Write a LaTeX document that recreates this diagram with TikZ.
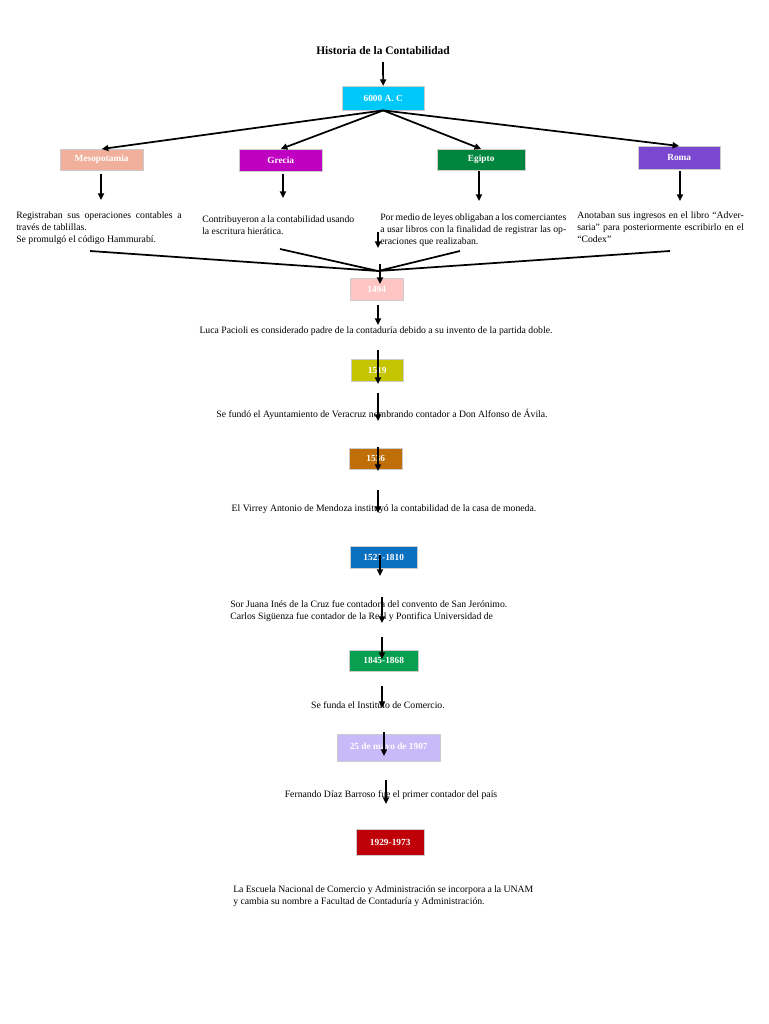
\documentclass[tikz,border=0pt]{standalone}
\usepackage{fontspec}
\setmainfont{Liberation Serif}
\usetikzlibrary{arrows.meta}
\begin{document}
\begin{tikzpicture}[x=0.75pt,y=-0.75pt,
  box/.style={draw=white!80!black,line width=0.3pt,anchor=north west,inner sep=0pt,text=white,font=\bfseries\fontsize{7}{8}\selectfont},
  txt/.style={font=\fontsize{7.3}{9.2}\selectfont,inner sep=0pt,anchor=north west,align=justify},
  ctxt/.style={font=\fontsize{7.3}{9.2}\selectfont,inner sep=0pt},
  ar/.style={-{Triangle[length=5pt,width=4.5pt]},line width=1.3pt},
  ln/.style={line width=1.3pt}]
\useasboundingbox (0,0) rectangle (768,1024);
\definecolor{c0}{HTML}{00C8F8}
\definecolor{c1}{HTML}{F0B09C}
\definecolor{c2}{HTML}{C000C0}
\definecolor{c3}{HTML}{00853F}
\definecolor{c4}{HTML}{7A48D0}
\definecolor{c5}{HTML}{FFC4C4}
\definecolor{c6}{HTML}{C4C400}
\definecolor{c7}{HTML}{C06E08}
\definecolor{c8}{HTML}{0A70C0}
\definecolor{c9}{HTML}{08A050}
\definecolor{c10}{HTML}{C8BAF8}
\definecolor{c11}{HTML}{C00008}
\node[font=\bfseries\fontsize{8.6}{10}\selectfont] (title) at (383,51) {Historia de la Contabilidad};
\node[box,fill=c0,minimum width={82*0.75pt},minimum height={24*0.75pt}] (b0) at (342,86) {6000 A. C};
\node[box,fill=c1,minimum width={83*0.75pt},minimum height={21*0.75pt}] (b1) at (60,149) {Mesopotamia};
\node[box,fill=c2,minimum width={83*0.75pt},minimum height={22*0.75pt}] (b2) at (239,149) {Grecia};
\node[box,fill=c3,minimum width={88*0.75pt},minimum height={21*0.75pt}] (b3) at (437,149) {Egipto};
\node[box,fill=c4,minimum width={82*0.75pt},minimum height={23*0.75pt}] (b4) at (638,146) {Roma};
\node[box,fill=c5,minimum width={53*0.75pt},minimum height={22*0.75pt}] (b5) at (350,278) {1494};
\node[box,fill=c6,minimum width={52*0.75pt},minimum height={22*0.75pt}] (b6) at (351,359) {1519};
\node[box,fill=c7,minimum width={53*0.75pt},minimum height={21*0.75pt}] (b7) at (349,448) {1536};
\node[box,fill=c8,minimum width={67*0.75pt},minimum height={22*0.75pt}] (b8) at (350,546) {1521-1810};
\node[box,fill=c9,minimum width={69*0.75pt},minimum height={21*0.75pt}] (b9) at (349,650) {1845-1868};
\node[box,fill=c10,minimum width={103*0.75pt},minimum height={27*0.75pt}] (b10) at (337,734) {25 de mayo de 1907};
\node[box,fill=c11,minimum width={68*0.75pt},minimum height={26*0.75pt}] (b11) at (356,829) {1929-1973};

\node[txt,text width=124pt] (t1) at (16,211) {Registraban sus operaciones contables a través de tablillas.\\Se promulgó el código Hammurabí.};
\node[txt,text width=114pt] (t2) at (202,215) {Contribuyeron a la contabilidad usando la escritura hierática.};
\node[txt,text width=139.5pt] (t3) at (380,213) {Por medio de leyes obligaban a los comerciantes a usar libros con la finalidad de registrar las operaciones que realizaban.};
\node[txt,text width=125pt] (t4) at (577,211) {Anotaban sus ingresos en el libro “Adversaria” para posteriormente escribirlo en el “Codex”};
\node[ctxt] (t5) at (376,331) {Luca Pacioli es considerado padre de la contaduría debido a su invento de la partida doble.};
\node[ctxt] (t6) at (382,414) {Se fundó el Ayuntamiento de Veracruz nombrando contador a Don Alfonso de Ávila.};
\node[ctxt] (t7) at (384,509) {El Virrey Antonio de Mendoza instituyó la contabilidad de la casa de moneda.};
\node[txt,text width=226pt] (t8) at (230,600) {Sor Juana Inés de la Cruz fue contadora del convento de San Jerónimo.\\Carlos Sigüenza fue contador de la Real y Pontifica Universidad de};
\node[ctxt] (t9) at (378,705) {Se funda el Instituto de Comercio.};
\node[ctxt] (t10) at (391,795) {Fernando Díaz Barroso fue el primer contador del país};
\node[txt,text width=225pt] (t11) at (233,885) {La Escuela Nacional de Comercio y Administración se incorpora a la UNAM y cambia su nombre a Facultad de Contaduría y Administración.};

\coordinate (m) at (378,271);
\coordinate (s1) at (90,251);\coordinate (s2) at (280,249);\coordinate (s3) at (460,251);\coordinate (s4) at (670,251);
\draw[ar] (383,62) -- (b0.north);
\draw[ar] (b0.south) -- (b1.north);
\draw[ar] (b0.south) -- (b2.north);
\draw[ar] (b0.south) -- (b3.north);
\draw[ar] (b0.south) -- (b4.north);
\draw[ar] (101,174) -- (101,200);
\draw[ar] (283,174) -- (283,198);
\draw[ar] (479,171) -- (479,201);
\draw[ar] (680,171) -- (680,201);
\draw[ar] (378,232) -- (378,248);
\draw[ln] (s1) -- (m) (s2) -- (m) (s3) -- (m) (s4) -- (m);
\draw[ar] (380,264) -- (380,284);
\draw[ar] (378,305) -- (378,325);
\draw[ar] (378,350) -- (378,384);
\draw[ar] (378,393) -- (378,421);
\draw[ar] (378,447) -- (378,471);
\draw[ar] (378,490) -- (378,513);
\draw[ar] (380,555) -- (380,576);
\draw[ar] (382,597) -- (382,623);
\draw[ar] (382,637) -- (382,659);
\draw[ar] (382,686) -- (382,708);
\draw[ar] (384,732) -- (384,756);
\draw[ar] (386,780) -- (386,804);
\end{tikzpicture}
\end{document}
